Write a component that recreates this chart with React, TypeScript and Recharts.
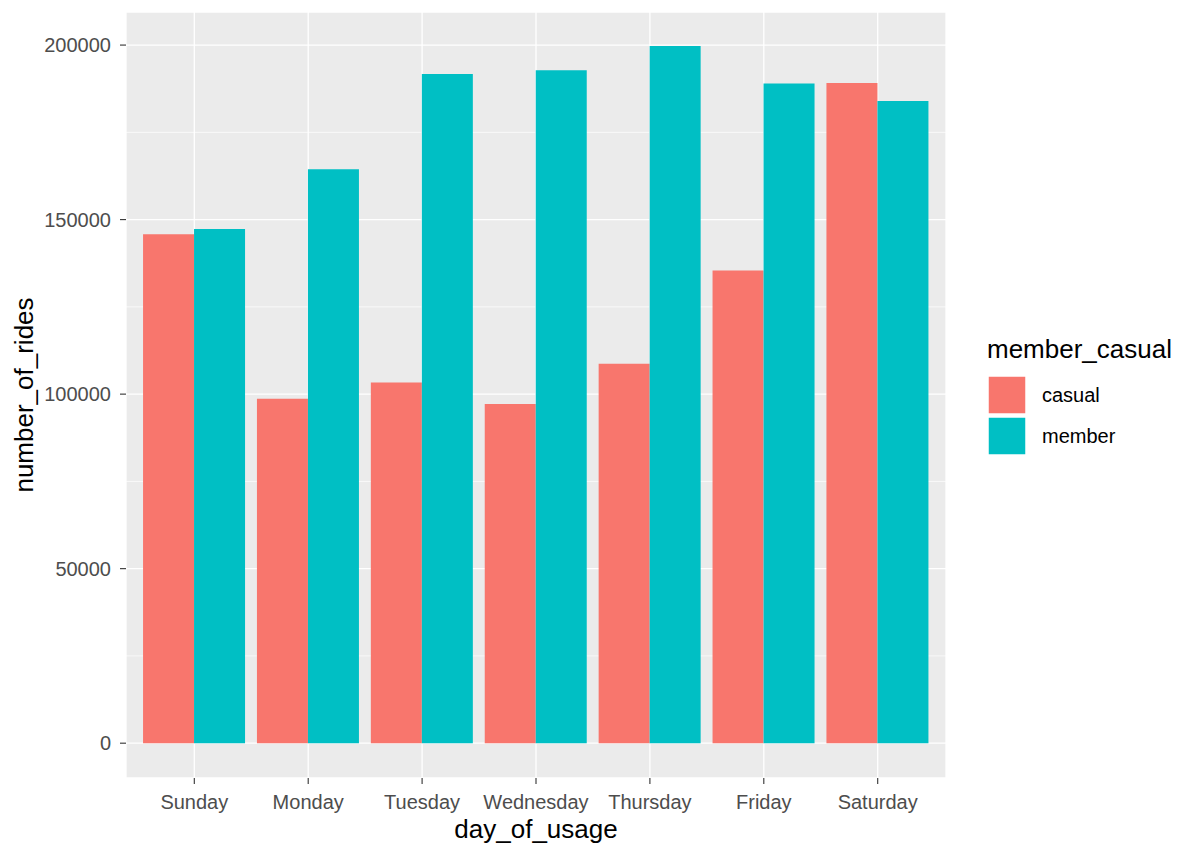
import { Bar, BarChart, CartesianGrid, XAxis, YAxis } from "recharts"

const days = ["Sunday", "Monday", "Tuesday", "Wednesday", "Thursday", "Friday", "Saturday"]
const casual = [145800, 98700, 103300, 97200, 108700, 135400, 189100]
const member = [147300, 164400, 191700, 192800, 199700, 189000, 184000]
const yTicks = [0, 50000, 100000, 150000, 200000]
const yMinor = [25000, 75000, 125000, 175000]
const series = [
  { key: "casual", color: "#F8766D" },
  { key: "member", color: "#00BFC4" }
]

const rows = days.map((day, i) => ({ day, casual: casual[i], member: member[i] }))

const font = '"Liberation Sans", Arial, sans-serif'

const App = () => {
  return (
    <div
      style={{
        position: "absolute",
        left: 0,
        top: 0,
        width: 1200,
        height: 857,
        background: "#fff",
        fontFamily: font
      }}
    >
      <BarChart
        width={1200}
        height={857}
        data={rows}
        margin={{ top: 12, right: 254, bottom: 0, left: 10 }}
        barCategoryGap="5%"
        barGap={0}
      >
        <CartesianGrid fill="#EBEBEB" stroke="#FFFFFF" strokeWidth={1.3} />
        <CartesianGrid
          vertical={false}
          horizontalValues={yMinor}
          stroke="#FFFFFF"
          strokeWidth={0.7}
        />
        <XAxis
          dataKey="day"
          height={79}
          padding={{ left: 11.35, right: 11.35 }}
          axisLine={false}
          tickSize={6}
          tickMargin={11}
          tickLine={{ stroke: "#333333", strokeWidth: 1.1 }}
          tick={{ fill: "#4D4D4D", fontSize: 20, fontFamily: font }}
          label={{
            content: () => (
              <text
                x={536}
                y={838}
                textAnchor="middle"
                fontSize={26}
                fill="#000"
                fontFamily={font}
              >
                day_of_usage
              </text>
            )
          }}
        />
        <YAxis
          width={116}
          type="number"
          domain={[-9975, 209475]}
          allowDataOverflow
          ticks={yTicks}
          axisLine={false}
          tickSize={6}
          tickMargin={9}
          tickLine={{ stroke: "#333333", strokeWidth: 1.1 }}
          tick={{ fill: "#4D4D4D", fontSize: 20, fontFamily: font }}
          label={{
            content: () => (
              <text
                x={33}
                y={395}
                transform="rotate(-90, 33, 395)"
                textAnchor="middle"
                fontSize={26}
                fill="#000"
                fontFamily={font}
              >
                number_of_rides
              </text>
            )
          }}
        />
        {series.map((s) => (
          <Bar key={s.key} dataKey={s.key} fill={s.color} isAnimationActive={false} />
        ))}
      </BarChart>
      <svg
        width={213}
        height={140}
        style={{ position: "absolute", left: 987, top: 330 }}
      >
        <text x={0} y={28} fontSize={26} fill="#000" fontFamily={font}>
          member_casual
        </text>
        {series.map((s, i) => (
          <g key={s.key}>
            <rect
              x={1}
              y={46 + i * 41}
              width={38}
              height={38}
              fill={s.color}
              stroke="#FFFFFF"
              strokeWidth={1.5}
            />
            <text x={55} y={72 + i * 41} fontSize={20} fill="#000" fontFamily={font}>
              {s.key}
            </text>
          </g>
        ))}
      </svg>
    </div>
  )
}

export default App
